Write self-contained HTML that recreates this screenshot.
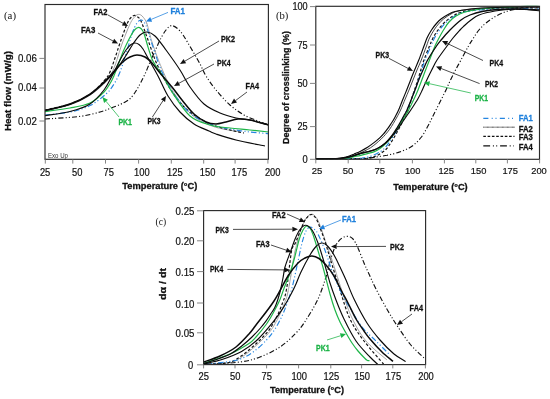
<!DOCTYPE html>
<html><head><meta charset="utf-8"><title>Figure</title>
<style>html,body{margin:0;padding:0;background:#fff}svg{display:block}</style>
</head><body>
<svg width="550" height="399" viewBox="0 0 550 399">
<defs>
<clipPath id="ca"><rect x="45" y="4.5" width="223.4" height="154.8"/></clipPath>
<clipPath id="cb"><rect x="315.8" y="5" width="223.7" height="154.6"/></clipPath>
<clipPath id="cc"><rect x="203.6" y="210.6" width="222" height="154"/></clipPath>
</defs>
<rect x="0" y="0" width="550" height="399" fill="#fff"/>
<path d="M45.0,119.0 C50.8,118.6 70.8,117.6 80.0,116.4 C89.2,115.2 95.0,113.3 100.0,112.0 C105.0,110.7 106.7,109.8 110.0,108.5 C113.3,107.2 117.3,105.7 120.0,104.5 C122.7,103.3 124.3,102.5 126.0,101.5 C127.7,100.5 128.9,99.8 130.2,98.5 C131.5,97.2 132.8,95.7 134.0,94.0 C135.2,92.3 136.4,90.4 137.5,88.5 C138.6,86.6 139.6,84.9 140.8,82.5 C142.1,80.1 143.6,77.0 145.0,74.0 C146.4,71.0 147.7,67.6 149.0,64.5 C150.3,61.4 151.8,58.2 153.0,55.5 C154.2,52.8 155.2,50.6 156.4,48.0 C157.6,45.4 158.4,43.0 160.0,40.0 C161.6,37.0 164.0,32.4 166.0,30.0 C168.0,27.6 169.7,25.4 172.0,25.6 C174.3,25.8 177.3,28.1 180.0,31.0 C182.7,33.9 184.7,37.5 188.0,43.0 C191.3,48.5 197.0,58.5 200.0,64.0 C203.0,69.5 203.3,71.7 206.0,76.0 C208.7,80.3 212.0,85.2 216.0,90.0 C220.0,94.8 225.3,100.8 230.0,105.0 C234.7,109.2 239.3,112.3 244.0,115.0 C248.7,117.7 253.9,119.3 258.0,121.0 C262.1,122.7 266.8,124.3 268.6,125.0" fill="none" stroke="#111" stroke-width="1.15" stroke-dasharray="5 2.1 1.1 2.1 1.1 2.1" clip-path="url(#ca)"/>
<path d="M45.0,110.8 C49.2,109.8 62.5,107.4 70.0,104.8 C77.5,102.2 84.0,99.1 90.0,95.2 C96.0,91.3 102.0,86.0 106.0,81.5 C110.0,77.0 111.3,74.2 114.0,68.0 C116.7,61.8 119.3,51.3 122.0,44.0 C124.7,36.7 127.8,28.6 130.0,24.0 C132.2,19.4 133.5,18.1 135.0,16.5 C136.5,14.9 137.7,14.3 139.0,14.4 C140.3,14.5 141.7,15.4 143.0,17.0 C144.3,18.6 145.5,19.8 147.0,24.0 C148.5,28.2 149.8,35.3 152.0,42.0 C154.2,48.7 157.0,56.7 160.0,64.0 C163.0,71.3 166.3,79.3 170.0,86.0 C173.7,92.7 177.7,98.7 182.0,104.0 C186.3,109.3 190.5,114.2 196.0,118.0 C201.5,121.8 207.7,124.7 215.0,127.0 C222.3,129.3 235.8,131.2 240.0,132.0" fill="none" stroke="#6a6a6a" stroke-width="1.00" stroke-dasharray="0.7 0.45" clip-path="url(#ca)"/>
<path d="M45.0,110.0 C49.2,109.0 62.5,106.6 70.0,104.0 C77.5,101.4 84.3,98.1 90.0,94.3 C95.7,90.5 100.7,84.7 104.0,81.0 C107.3,77.3 108.2,75.8 110.0,72.0 C111.8,68.2 113.3,62.8 115.0,58.0 C116.7,53.2 118.0,48.7 120.0,43.0 C122.0,37.3 125.2,28.2 127.0,24.0 C128.8,19.8 129.8,18.9 131.0,17.5 C132.2,16.1 133.0,15.7 134.0,15.5 C135.0,15.3 135.8,15.6 137.0,16.5 C138.2,17.4 139.2,17.1 141.0,21.0 C142.8,24.9 145.5,33.2 148.0,40.0 C150.5,46.8 153.0,55.0 156.0,62.0 C159.0,69.0 162.3,75.7 166.0,82.0 C169.7,88.3 174.0,95.0 178.0,100.0 C182.0,105.0 184.7,108.0 190.0,112.0 C195.3,116.0 203.3,121.0 210.0,124.0 C216.7,127.0 224.3,128.5 230.0,130.0 C235.7,131.5 241.7,132.5 244.0,133.0" fill="none" stroke="#111" stroke-width="1.20" stroke-dasharray="2.8 2" clip-path="url(#ca)"/>
<path d="M45.0,115.0 C49.2,114.5 62.5,113.6 70.0,112.0 C77.5,110.4 84.0,108.6 90.0,105.6 C96.0,102.6 102.0,97.6 106.0,94.0 C110.0,90.4 111.7,87.7 114.0,84.0 C116.3,80.3 118.0,77.0 120.0,72.0 C122.0,67.0 124.0,60.3 126.0,54.0 C128.0,47.7 130.2,39.2 132.0,34.0 C133.8,28.8 135.5,25.3 137.0,23.0 C138.5,20.7 139.8,20.2 141.0,20.0 C142.2,19.8 143.0,20.7 144.0,22.0 C145.0,23.3 145.7,24.3 147.0,28.0 C148.3,31.7 149.5,36.7 152.0,44.0 C154.5,51.3 158.3,63.7 162.0,72.0 C165.7,80.3 169.3,87.2 174.0,94.0 C178.7,100.8 184.0,108.0 190.0,113.0 C196.0,118.0 203.3,121.3 210.0,124.0 C216.7,126.7 223.3,127.7 230.0,129.0 C236.7,130.3 243.6,131.2 250.0,132.0 C256.4,132.8 265.5,133.3 268.6,133.6" fill="none" stroke="#2585e0" stroke-width="1.15" stroke-dasharray="5.5 2.3 1.1 2.3 1.1 2.3" clip-path="url(#ca)"/>
<path d="M45.0,111.6 C49.2,111.0 62.5,109.4 70.0,108.0 C77.5,106.6 84.3,105.7 90.0,103.0 C95.7,100.3 100.3,95.8 104.0,92.0 C107.7,88.2 109.8,84.0 112.0,80.0 C114.2,76.0 115.5,71.8 117.0,68.0 C118.5,64.2 119.8,60.2 121.0,57.0 C122.2,53.8 122.9,51.9 124.5,48.5 C126.1,45.1 128.7,39.7 130.4,36.5 C132.2,33.3 133.6,31.0 135.0,29.5 C136.4,28.0 137.5,27.4 138.6,27.3 C139.7,27.2 140.6,28.0 141.5,29.0 C142.4,30.0 142.9,30.5 144.0,33.5 C145.1,36.5 146.7,42.8 148.0,47.0 C149.3,51.2 150.7,55.8 152.0,59.0 C153.3,62.2 154.0,62.8 156.0,66.0 C158.0,69.2 161.3,73.7 164.0,78.0 C166.7,82.3 167.7,85.7 172.0,92.0 C176.3,98.3 183.7,110.5 190.0,116.0 C196.3,121.5 203.3,123.0 210.0,125.0 C216.7,127.0 223.3,127.2 230.0,128.0 C236.7,128.8 243.6,129.3 250.0,130.0 C256.4,130.7 265.5,131.7 268.6,132.0" fill="none" stroke="#1fb549" stroke-width="1.20" clip-path="url(#ca)"/>
<path d="M45.0,110.6 C49.2,109.6 62.5,107.1 70.0,104.5 C77.5,101.9 84.2,98.5 90.0,94.8 C95.8,91.0 100.8,85.9 105.0,82.0 C109.2,78.1 111.7,75.7 115.0,71.5 C118.3,67.3 122.0,61.6 125.0,57.0 C128.0,52.4 130.5,47.7 133.0,44.0 C135.5,40.3 137.7,37.0 140.0,35.0 C142.3,33.0 144.5,31.8 147.0,32.0 C149.5,32.2 151.8,33.0 155.0,36.0 C158.2,39.0 161.8,44.3 166.0,50.0 C170.2,55.7 176.0,63.8 180.0,70.0 C184.0,76.2 186.0,81.3 190.0,87.0 C194.0,92.7 199.0,99.7 204.0,104.0 C209.0,108.3 214.7,110.7 220.0,113.0 C225.3,115.3 231.0,116.8 236.0,118.0 C241.0,119.2 244.6,118.8 250.0,120.0 C255.4,121.2 265.5,124.2 268.6,125.0" fill="none" stroke="#0a0a0a" stroke-width="1.15" clip-path="url(#ca)"/>
<path d="M45.0,115.6 C49.2,114.9 62.5,113.4 70.0,111.5 C77.5,109.6 84.3,107.6 90.0,104.0 C95.7,100.4 100.3,94.7 104.0,90.0 C107.7,85.3 109.3,81.0 112.0,76.0 C114.7,71.0 117.7,64.3 120.0,60.0 C122.3,55.7 124.2,52.6 126.0,50.0 C127.8,47.4 129.5,45.7 131.0,44.5 C132.5,43.3 133.7,43.0 135.0,43.0 C136.3,43.0 137.7,43.5 139.0,44.5 C140.3,45.5 141.5,46.8 143.0,49.0 C144.5,51.2 145.5,53.5 148.0,58.0 C150.5,62.5 154.7,69.7 158.0,76.0 C161.3,82.3 164.3,90.0 168.0,96.0 C171.7,102.0 175.7,107.3 180.0,112.0 C184.3,116.7 189.2,120.8 194.0,124.0 C198.8,127.2 205.3,129.3 209.0,131.0 C212.7,132.7 211.5,132.5 216.0,134.0 C220.5,135.5 227.8,138.0 236.0,140.0 C244.2,142.0 260.2,145.0 265.0,146.0" fill="none" stroke="#0a0a0a" stroke-width="1.15" clip-path="url(#ca)"/>
<path d="M45.0,110.5 C49.2,109.4 62.5,106.8 70.0,104.0 C77.5,101.2 84.0,98.0 90.0,94.0 C96.0,90.0 101.7,84.2 106.0,80.0 C110.3,75.8 113.0,72.2 116.0,69.0 C119.0,65.8 121.7,63.0 124.0,61.0 C126.3,59.0 127.8,58.0 130.0,57.0 C132.2,56.0 134.5,55.0 137.0,55.0 C139.5,55.0 142.5,55.7 145.0,57.0 C147.5,58.3 149.5,60.3 152.0,63.0 C154.5,65.7 156.7,69.0 160.0,73.0 C163.3,77.0 168.3,82.5 172.0,87.0 C175.7,91.5 178.3,95.5 182.0,100.0 C185.7,104.5 190.0,110.3 194.0,114.0 C198.0,117.7 202.3,120.3 206.0,122.0 C209.7,123.7 212.7,124.0 216.0,124.0 C219.3,124.0 222.3,122.8 226.0,122.0 C229.7,121.2 234.0,119.3 238.0,119.0 C242.0,118.7 244.9,119.0 250.0,120.0 C255.1,121.0 265.5,124.2 268.6,125.0" fill="none" stroke="#0a0a0a" stroke-width="1.50" clip-path="url(#ca)"/>
<rect x="45.0" y="4.5" width="223.4" height="154.8" fill="none" stroke="#2a2a2a" stroke-width="1.15"/>
<line x1="39.4" y1="58.4" x2="45" y2="58.4" stroke="#777" stroke-width="0.9"/>
<text x="36.8" y="61.5" font-family="'Liberation Sans', sans-serif" font-size="10.00" fill="#111" text-anchor="end" stroke="#111" stroke-width="0.20" textLength="18.8" lengthAdjust="spacingAndGlyphs">0.06</text>
<line x1="39.4" y1="88.0" x2="45" y2="88.0" stroke="#777" stroke-width="0.9"/>
<text x="36.8" y="91.2" font-family="'Liberation Sans', sans-serif" font-size="10.00" fill="#111" text-anchor="end" stroke="#111" stroke-width="0.20" textLength="18.8" lengthAdjust="spacingAndGlyphs">0.04</text>
<line x1="39.4" y1="121.0" x2="45" y2="121.0" stroke="#777" stroke-width="0.9"/>
<text x="36.8" y="125.0" font-family="'Liberation Sans', sans-serif" font-size="10.00" fill="#111" text-anchor="end" stroke="#111" stroke-width="0.20" textLength="18.8" lengthAdjust="spacingAndGlyphs">0.02</text>
<line x1="45.3" y1="159.3" x2="45.3" y2="163.6" stroke="#777" stroke-width="0.9"/>
<line x1="72.8" y1="159.3" x2="72.8" y2="163.6" stroke="#777" stroke-width="0.9"/>
<line x1="105.5" y1="159.3" x2="105.5" y2="163.6" stroke="#777" stroke-width="0.9"/>
<line x1="138.6" y1="159.3" x2="138.6" y2="163.6" stroke="#777" stroke-width="0.9"/>
<line x1="171.3" y1="159.3" x2="171.3" y2="163.6" stroke="#777" stroke-width="0.9"/>
<line x1="203.7" y1="159.3" x2="203.7" y2="163.6" stroke="#777" stroke-width="0.9"/>
<line x1="235.1" y1="159.3" x2="235.1" y2="163.6" stroke="#777" stroke-width="0.9"/>
<line x1="267.9" y1="159.3" x2="267.9" y2="163.6" stroke="#777" stroke-width="0.9"/>
<text x="45.1" y="176.1" font-family="'Liberation Sans', sans-serif" font-size="10.00" fill="#111" text-anchor="middle" stroke="#111" stroke-width="0.20" textLength="10.4" lengthAdjust="spacingAndGlyphs">25</text>
<text x="77.2" y="176.1" font-family="'Liberation Sans', sans-serif" font-size="10.00" fill="#111" text-anchor="middle" stroke="#111" stroke-width="0.20" textLength="10.4" lengthAdjust="spacingAndGlyphs">50</text>
<text x="108.8" y="176.1" font-family="'Liberation Sans', sans-serif" font-size="10.00" fill="#111" text-anchor="middle" stroke="#111" stroke-width="0.20" textLength="10.4" lengthAdjust="spacingAndGlyphs">75</text>
<text x="141.8" y="176.1" font-family="'Liberation Sans', sans-serif" font-size="10.00" fill="#111" text-anchor="middle" stroke="#111" stroke-width="0.20" textLength="15.6" lengthAdjust="spacingAndGlyphs">100</text>
<text x="174.9" y="176.1" font-family="'Liberation Sans', sans-serif" font-size="10.00" fill="#111" text-anchor="middle" stroke="#111" stroke-width="0.20" textLength="15.6" lengthAdjust="spacingAndGlyphs">125</text>
<text x="207.6" y="176.1" font-family="'Liberation Sans', sans-serif" font-size="10.00" fill="#111" text-anchor="middle" stroke="#111" stroke-width="0.20" textLength="15.6" lengthAdjust="spacingAndGlyphs">150</text>
<text x="239.3" y="176.1" font-family="'Liberation Sans', sans-serif" font-size="10.00" fill="#111" text-anchor="middle" stroke="#111" stroke-width="0.20" textLength="15.6" lengthAdjust="spacingAndGlyphs">175</text>
<text x="272.7" y="176.1" font-family="'Liberation Sans', sans-serif" font-size="10.00" fill="#111" text-anchor="middle" stroke="#111" stroke-width="0.20" textLength="15.6" lengthAdjust="spacingAndGlyphs">200</text>
<text x="122.3" y="188.6" font-family="'Liberation Sans', sans-serif" font-size="9.40" fill="#111" text-anchor="start" font-weight="bold" stroke="#111" stroke-width="0.3" textLength="75.0" lengthAdjust="spacingAndGlyphs">Temperature (°C)</text>
<text x="11.0" y="131.0" font-family="'Liberation Sans', sans-serif" font-size="9.60" fill="#111" text-anchor="start" font-weight="bold" stroke="#111" stroke-width="0.3" textLength="80.0" lengthAdjust="spacingAndGlyphs" transform="rotate(-90 11.0 131.0)">Heat flow (mW/g)</text>
<text x="4.0" y="19.4" font-family="'Liberation Serif', serif" font-size="10.50" fill="#111" text-anchor="start" textLength="12.0" lengthAdjust="spacingAndGlyphs">(a)</text>
<text x="48.0" y="158.2" font-family="'Liberation Sans', sans-serif" font-size="6.40" fill="#333" text-anchor="start" textLength="20.0" lengthAdjust="spacingAndGlyphs">Exo Up</text>
<text x="93.6" y="15.2" font-family="'Liberation Sans', sans-serif" font-size="8.50" fill="#111" text-anchor="start" font-weight="bold" stroke="#111" stroke-width="0.3" textLength="13.8" lengthAdjust="spacingAndGlyphs">FA2</text>
<line x1="108.0" y1="15.0" x2="123.1" y2="23.3" stroke="#111" stroke-width="0.75"/>
<polygon points="128.0,26.0 121.9,25.5 124.3,21.1" fill="#111"/>
<text x="81.0" y="32.8" font-family="'Liberation Sans', sans-serif" font-size="8.50" fill="#111" text-anchor="start" font-weight="bold" stroke="#111" stroke-width="0.3" textLength="14.4" lengthAdjust="spacingAndGlyphs">FA3</text>
<line x1="98.0" y1="33.0" x2="113.1" y2="41.0" stroke="#111" stroke-width="0.75"/>
<polygon points="118.0,43.6 111.9,43.2 114.2,38.8" fill="#111"/>
<text x="170.4" y="13.8" font-family="'Liberation Sans', sans-serif" font-size="8.50" fill="#1f80dc" text-anchor="start" font-weight="bold" stroke="#1f80dc" stroke-width="0.3" textLength="14.6" lengthAdjust="spacingAndGlyphs">FA1</text>
<line x1="168.0" y1="12.4" x2="151.2" y2="19.4" stroke="#1f80dc" stroke-width="0.75"/>
<polygon points="146.0,21.6 150.2,17.1 152.1,21.7" fill="#1f80dc"/>
<text x="221.0" y="41.8" font-family="'Liberation Sans', sans-serif" font-size="8.50" fill="#111" text-anchor="start" font-weight="bold" stroke="#111" stroke-width="0.3" textLength="14.0" lengthAdjust="spacingAndGlyphs">PK2</text>
<line x1="219.0" y1="41.0" x2="184.8" y2="61.2" stroke="#111" stroke-width="0.75"/>
<polygon points="180.0,64.0 183.6,59.0 186.1,63.3" fill="#111"/>
<text x="217.0" y="65.8" font-family="'Liberation Sans', sans-serif" font-size="8.50" fill="#111" text-anchor="start" font-weight="bold" stroke="#111" stroke-width="0.3" textLength="13.6" lengthAdjust="spacingAndGlyphs">PK4</text>
<line x1="214.0" y1="64.0" x2="178.9" y2="83.3" stroke="#111" stroke-width="0.75"/>
<polygon points="174.0,86.0 177.7,81.1 180.1,85.5" fill="#111"/>
<text x="245.6" y="89.2" font-family="'Liberation Sans', sans-serif" font-size="8.50" fill="#111" text-anchor="start" font-weight="bold" stroke="#111" stroke-width="0.3" textLength="13.4" lengthAdjust="spacingAndGlyphs">FA4</text>
<line x1="247.0" y1="92.0" x2="235.5" y2="100.6" stroke="#111" stroke-width="0.75"/>
<polygon points="231.0,104.0 234.0,98.6 237.0,102.6" fill="#111"/>
<text x="118.4" y="125.2" font-family="'Liberation Sans', sans-serif" font-size="8.50" fill="#1cb347" text-anchor="start" font-weight="bold" stroke="#1cb347" stroke-width="0.3" textLength="13.6" lengthAdjust="spacingAndGlyphs">PK1</text>
<line x1="119.0" y1="117.0" x2="106.0" y2="101.3" stroke="#1cb347" stroke-width="0.75"/>
<polygon points="102.4,97.0 107.9,99.7 104.1,102.9" fill="#1cb347"/>
<text x="147.4" y="124.4" font-family="'Liberation Sans', sans-serif" font-size="8.50" fill="#111" text-anchor="start" font-weight="bold" stroke="#111" stroke-width="0.3" textLength="13.2" lengthAdjust="spacingAndGlyphs">PK3</text>
<line x1="152.4" y1="117.0" x2="163.0" y2="100.7" stroke="#111" stroke-width="0.75"/>
<polygon points="166.0,96.0 165.1,102.1 160.9,99.3" fill="#111"/>
<path d="M315.8,158.9 C323.5,158.9 352.6,158.9 362.0,158.7 C371.4,158.5 369.2,158.0 372.0,157.6 C374.8,157.3 376.1,157.0 378.6,156.6 C381.1,156.2 384.3,155.8 387.0,155.3 C389.7,154.7 392.3,154.2 395.0,153.4 C397.7,152.7 400.5,151.7 403.0,150.7 C405.5,149.7 407.8,148.8 410.0,147.5 C412.2,146.2 414.2,144.7 416.0,143.0 C417.8,141.3 419.5,139.4 421.0,137.5 C422.5,135.6 423.8,133.6 425.0,131.5 C426.2,129.4 427.3,127.2 428.5,125.0 C429.7,122.8 430.7,120.7 432.0,118.0 C433.3,115.3 434.9,112.2 436.5,109.0 C438.1,105.8 439.9,102.2 441.5,99.0 C443.1,95.8 444.5,93.2 446.0,90.0 C447.5,86.8 448.9,83.3 450.5,80.0 C452.1,76.7 453.8,73.3 455.5,70.0 C457.2,66.7 458.8,64.0 461.0,60.0 C463.2,56.0 466.4,49.7 468.5,46.0 C470.6,42.3 471.8,40.7 473.5,38.0 C475.2,35.3 476.9,32.5 479.0,30.0 C481.1,27.5 483.2,25.3 486.0,23.0 C488.8,20.7 492.3,18.2 495.5,16.4 C498.7,14.6 501.8,13.2 505.0,12.0 C508.2,10.8 510.8,10.2 514.5,9.5 C518.2,8.8 522.8,8.2 527.0,7.8 C531.2,7.3 537.8,7.0 540.0,6.8" fill="none" stroke="#111" stroke-width="1.15" stroke-dasharray="5 2.1 1.1 2.1 1.1 2.1" clip-path="url(#cb)"/>
<path d="M315.8,158.9 C319.8,158.8 334.3,158.8 340.0,158.5 C345.7,158.2 347.2,157.8 350.0,157.1 C352.8,156.4 354.7,155.3 357.0,154.4 C359.3,153.4 361.8,152.3 364.0,151.2 C366.2,150.1 368.3,149.2 370.3,147.9 C372.3,146.6 374.2,145.1 376.0,143.6 C377.8,142.1 379.7,140.4 381.3,138.9 C382.9,137.4 384.2,135.9 385.6,134.3 C387.0,132.7 388.3,131.1 389.6,129.3 C390.9,127.5 392.1,125.5 393.3,123.5 C394.5,121.5 395.8,119.2 397.0,117.0 C398.2,114.8 399.2,113.0 400.6,110.0 C402.0,107.0 403.8,102.3 405.2,99.0 C406.6,95.7 407.7,93.2 409.0,90.0 C410.3,86.8 411.7,83.3 413.0,80.0 C414.3,76.7 415.6,73.3 417.0,70.0 C418.4,66.7 419.7,64.0 421.3,60.0 C422.9,56.0 425.1,49.7 426.5,46.0 C427.9,42.3 428.2,40.7 429.5,38.0 C430.8,35.3 432.5,32.3 434.0,30.0 C435.5,27.7 436.9,25.8 438.5,24.0 C440.1,22.2 441.4,20.7 443.5,19.0 C445.6,17.3 448.6,15.3 451.0,14.0 C453.4,12.7 454.2,11.8 458.0,11.0 C461.8,10.2 469.0,9.5 474.0,9.0 C479.0,8.5 481.2,8.2 488.0,8.0 C494.8,7.8 506.3,7.6 515.0,7.5 C523.7,7.4 535.8,7.5 540.0,7.5" fill="none" stroke="#3a3a3a" stroke-width="0.95" clip-path="url(#cb)"/>
<path d="M315.8,158.9 C323.2,158.9 351.3,158.8 360.0,158.6 C368.7,158.5 365.6,158.3 368.0,158.0 C370.4,157.7 372.4,157.3 374.4,156.6 C376.4,155.9 378.1,154.9 380.0,153.8 C381.9,152.7 384.0,151.2 385.5,149.8 C387.0,148.4 387.9,147.1 389.0,145.5 C390.1,143.9 391.2,142.2 392.4,140.3 C393.6,138.4 394.9,136.1 396.0,134.0 C397.1,131.9 398.3,129.9 399.3,128.0 C400.3,126.1 401.1,124.3 402.0,122.5 C402.9,120.7 403.8,119.0 404.8,116.9 C405.8,114.8 407.1,113.0 408.2,110.0 C409.3,107.0 410.4,102.3 411.5,99.0 C412.6,95.7 413.4,93.2 414.5,90.0 C415.6,86.8 416.8,83.3 417.8,80.0 C418.9,76.7 419.8,73.3 420.8,70.0 C421.8,66.7 422.6,64.0 424.0,60.0 C425.4,56.0 428.0,49.7 429.5,46.0 C431.0,42.3 431.6,40.7 433.0,38.0 C434.4,35.3 436.0,32.7 438.0,30.0 C440.0,27.3 442.5,24.3 445.0,22.0 C447.5,19.7 450.2,17.7 453.0,16.0 C455.8,14.3 457.8,13.1 462.0,12.0 C466.2,10.9 471.7,10.2 478.0,9.5 C484.3,8.8 489.7,8.2 500.0,8.0 C510.3,7.8 533.3,8.0 540.0,8.0" fill="none" stroke="#111" stroke-width="1.20" stroke-dasharray="2.8 2" clip-path="url(#cb)"/>
<path d="M315.8,158.9 C322.3,158.9 347.3,158.8 355.0,158.6 C362.7,158.5 359.9,158.2 362.0,158.0 C364.1,157.7 365.4,157.7 367.6,157.1 C369.8,156.5 372.7,155.6 375.0,154.5 C377.3,153.5 379.5,152.3 381.3,151.0 C383.1,149.7 384.2,148.5 385.6,147.0 C387.0,145.5 388.2,143.7 389.6,141.7 C391.0,139.7 392.6,137.3 394.0,135.0 C395.4,132.7 396.7,130.3 397.9,128.0 C399.1,125.7 400.2,123.3 401.4,121.0 C402.5,118.7 403.9,115.8 404.8,114.0 C405.7,112.2 405.9,112.5 407.0,110.0 C408.1,107.5 410.2,102.3 411.5,99.0 C412.8,95.7 413.8,93.2 415.0,90.0 C416.2,86.8 417.4,83.3 418.5,80.0 C419.6,76.7 420.6,73.3 421.7,70.0 C422.8,66.7 423.4,64.0 425.0,60.0 C426.6,56.0 429.4,49.7 431.0,46.0 C432.6,42.3 433.1,40.7 434.5,38.0 C435.9,35.3 437.5,32.7 439.5,30.0 C441.5,27.3 443.9,24.3 446.5,22.0 C449.1,19.7 452.1,17.7 455.0,16.0 C457.9,14.3 459.8,13.0 464.0,12.0 C468.2,11.0 473.2,10.5 480.0,10.0 C486.8,9.5 495.0,9.2 505.0,9.0 C515.0,8.8 534.2,9.0 540.0,9.0" fill="none" stroke="#2585e0" stroke-width="1.15" stroke-dasharray="5.5 2.3 1.1 2.3 1.1 2.3" clip-path="url(#cb)"/>
<path d="M315.8,158.9 C320.7,158.8 338.6,158.9 345.0,158.5 C351.4,158.2 351.4,157.2 354.0,156.6 C356.6,156.1 358.4,155.8 360.7,155.3 C362.9,154.8 365.2,154.2 367.5,153.6 C369.8,153.0 372.3,152.5 374.4,151.6 C376.5,150.8 378.1,149.9 380.0,148.5 C381.9,147.2 383.8,145.5 385.5,143.8 C387.2,142.1 388.9,140.3 390.5,138.3 C392.1,136.3 393.7,134.1 395.1,132.0 C396.5,129.9 397.7,127.9 399.0,125.8 C400.3,123.7 401.7,121.3 402.8,119.6 C403.9,117.9 404.4,117.1 405.4,115.5 C406.4,113.9 407.2,112.8 408.6,110.0 C410.0,107.2 412.4,102.3 414.0,99.0 C415.6,95.7 416.7,93.2 418.0,90.0 C419.3,86.8 420.5,83.3 421.8,80.0 C423.1,76.7 424.3,73.3 425.6,70.0 C426.9,66.7 427.9,64.0 429.5,60.0 C431.1,56.0 433.4,49.7 435.0,46.0 C436.6,42.3 437.6,40.7 439.0,38.0 C440.4,35.3 441.8,32.7 443.5,30.0 C445.2,27.3 446.9,24.3 449.0,22.0 C451.1,19.7 453.3,17.7 456.0,16.0 C458.7,14.3 461.0,13.2 465.0,12.0 C469.0,10.8 474.2,9.8 480.0,9.0 C485.8,8.2 493.3,7.9 500.0,7.5 C506.7,7.1 513.3,6.7 520.0,6.5 C526.7,6.3 536.7,6.5 540.0,6.5" fill="none" stroke="#1fb549" stroke-width="1.20" clip-path="url(#cb)"/>
<path d="M315.8,158.9 C319.2,158.8 331.0,158.8 336.0,158.5 C341.0,158.2 343.0,157.8 346.0,157.1 C349.0,156.4 351.3,155.2 353.8,154.2 C356.3,153.1 358.7,152.1 361.0,150.9 C363.3,149.7 365.4,148.6 367.6,147.2 C369.8,145.8 371.9,144.2 374.0,142.6 C376.1,141.0 378.3,139.2 380.0,137.6 C381.7,136.0 382.9,134.6 384.3,133.0 C385.7,131.4 386.9,129.7 388.2,127.9 C389.4,126.2 390.6,124.3 391.8,122.5 C393.0,120.7 394.0,119.0 395.1,116.9 C396.2,114.8 397.3,113.0 398.6,110.0 C399.9,107.0 401.6,102.3 403.0,99.0 C404.4,95.7 405.4,93.2 406.7,90.0 C408.0,86.8 409.3,83.3 410.6,80.0 C411.9,76.7 413.2,73.3 414.6,70.0 C416.0,66.7 417.2,64.0 418.8,60.0 C420.4,56.0 422.6,49.7 424.0,46.0 C425.4,42.3 425.8,40.7 427.0,38.0 C428.2,35.3 430.0,32.3 431.5,30.0 C433.0,27.7 434.4,25.8 436.0,24.0 C437.6,22.2 438.8,20.7 441.0,19.0 C443.2,17.3 446.7,15.2 449.0,14.0 C451.3,12.8 451.5,12.3 455.0,11.5 C458.5,10.7 465.5,9.6 470.0,9.0 C474.5,8.4 475.5,8.3 482.0,8.0 C488.5,7.7 499.3,7.2 509.0,7.0 C518.7,6.8 534.8,6.6 540.0,6.5" fill="none" stroke="#0a0a0a" stroke-width="1.15" clip-path="url(#cb)"/>
<path d="M315.8,158.9 C319.8,158.8 334.0,159.0 340.0,158.5 C346.0,158.1 348.6,157.0 352.0,156.2 C355.4,155.3 358.1,154.2 360.7,153.4 C363.3,152.7 365.2,152.4 367.5,151.8 C369.8,151.2 372.3,150.6 374.4,149.8 C376.5,149.0 378.1,148.1 380.0,147.0 C381.9,145.9 383.8,144.4 385.5,143.0 C387.2,141.6 388.7,140.1 390.2,138.5 C391.7,136.9 393.1,135.2 394.5,133.4 C395.9,131.7 397.2,129.8 398.5,128.0 C399.8,126.2 401.2,124.1 402.3,122.4 C403.4,120.7 404.4,119.4 405.3,118.0 C406.2,116.6 407.1,115.3 408.0,114.0 C408.9,112.7 409.2,112.5 410.8,110.0 C412.4,107.5 415.9,102.3 417.8,99.0 C419.7,95.7 420.8,93.2 422.3,90.0 C423.8,86.8 425.2,83.3 426.8,80.0 C428.4,76.7 430.0,73.3 431.7,70.0 C433.4,66.7 434.4,64.0 437.0,60.0 C439.6,56.0 444.3,49.7 447.0,46.0 C449.7,42.3 450.8,40.7 453.0,38.0 C455.2,35.3 458.2,32.0 460.0,30.0 C461.8,28.0 462.2,27.7 464.0,26.0 C465.8,24.3 468.5,21.8 471.0,20.0 C473.5,18.2 475.0,16.5 479.0,15.0 C483.0,13.5 489.2,12.0 495.0,11.0 C500.8,10.0 508.7,9.2 514.0,9.0 C519.3,8.8 522.7,9.2 527.0,9.5 C531.3,9.8 537.8,10.8 540.0,11.0" fill="none" stroke="#0a0a0a" stroke-width="1.15" clip-path="url(#cb)"/>
<path d="M315.8,158.9 C319.8,158.8 334.0,159.0 340.0,158.5 C346.0,158.1 348.6,157.0 352.0,156.2 C355.4,155.3 358.1,154.2 360.7,153.4 C363.3,152.7 365.2,152.4 367.5,151.8 C369.8,151.2 372.3,150.6 374.4,149.8 C376.5,149.0 378.1,148.1 380.0,147.0 C381.9,145.9 383.8,144.5 385.5,143.0 C387.2,141.5 388.6,139.8 390.0,138.0 C391.4,136.2 392.8,134.3 394.0,132.5 C395.2,130.7 396.3,128.9 397.5,127.0 C398.7,125.1 399.9,122.9 401.0,121.0 C402.1,119.1 403.0,117.3 404.0,115.5 C405.0,113.7 405.8,112.8 407.0,110.0 C408.2,107.2 410.2,102.3 411.5,99.0 C412.8,95.7 413.8,93.2 415.0,90.0 C416.2,86.8 417.4,83.3 418.7,80.0 C420.0,76.7 421.5,73.3 423.0,70.0 C424.5,66.7 425.4,64.0 427.6,60.0 C429.9,56.0 434.1,49.5 436.5,46.0 C438.9,42.5 439.8,41.7 442.0,39.0 C444.2,36.3 446.8,33.2 450.0,30.0 C453.2,26.8 457.7,22.5 461.0,20.0 C464.3,17.5 466.5,16.4 470.0,15.0 C473.5,13.6 477.3,12.4 482.0,11.5 C486.7,10.6 492.5,9.9 498.0,9.5 C503.5,9.1 508.0,8.9 515.0,9.0 C522.0,9.1 535.8,9.8 540.0,10.0" fill="none" stroke="#0a0a0a" stroke-width="1.30" clip-path="url(#cb)"/>
<rect x="315.8" y="6.3" width="223.7" height="153.0" fill="none" stroke="#2a2a2a" stroke-width="1.15"/>
<line x1="310" y1="6.6" x2="315.8" y2="6.6" stroke="#777" stroke-width="0.9"/>
<text x="307.6" y="10.2" font-family="'Liberation Sans', sans-serif" font-size="10.00" fill="#111" text-anchor="end" stroke="#111" stroke-width="0.20" textLength="15.2" lengthAdjust="spacingAndGlyphs">100</text>
<line x1="310" y1="45.0" x2="315.8" y2="45.0" stroke="#777" stroke-width="0.9"/>
<text x="307.6" y="48.6" font-family="'Liberation Sans', sans-serif" font-size="10.00" fill="#111" text-anchor="end" stroke="#111" stroke-width="0.20" textLength="10.2" lengthAdjust="spacingAndGlyphs">75</text>
<line x1="310" y1="83.4" x2="315.8" y2="83.4" stroke="#777" stroke-width="0.9"/>
<text x="307.6" y="87.0" font-family="'Liberation Sans', sans-serif" font-size="10.00" fill="#111" text-anchor="end" stroke="#111" stroke-width="0.20" textLength="10.2" lengthAdjust="spacingAndGlyphs">50</text>
<line x1="310" y1="126.6" x2="315.8" y2="126.6" stroke="#777" stroke-width="0.9"/>
<text x="307.6" y="130.2" font-family="'Liberation Sans', sans-serif" font-size="10.00" fill="#111" text-anchor="end" stroke="#111" stroke-width="0.20" textLength="10.2" lengthAdjust="spacingAndGlyphs">25</text>
<line x1="310" y1="159.3" x2="315.8" y2="159.3" stroke="#777" stroke-width="0.9"/>
<text x="307.6" y="162.9" font-family="'Liberation Sans', sans-serif" font-size="10.00" fill="#111" text-anchor="end" stroke="#111" stroke-width="0.20" textLength="5.2" lengthAdjust="spacingAndGlyphs">0</text>
<line x1="315.8" y1="159.3" x2="315.8" y2="163.4" stroke="#777" stroke-width="0.9"/>
<line x1="348.2" y1="159.3" x2="348.2" y2="163.4" stroke="#777" stroke-width="0.9"/>
<line x1="379.8" y1="159.3" x2="379.8" y2="163.4" stroke="#777" stroke-width="0.9"/>
<line x1="412.4" y1="159.3" x2="412.4" y2="163.4" stroke="#777" stroke-width="0.9"/>
<line x1="444.4" y1="159.3" x2="444.4" y2="163.4" stroke="#777" stroke-width="0.9"/>
<line x1="475.8" y1="159.3" x2="475.8" y2="163.4" stroke="#777" stroke-width="0.9"/>
<line x1="507.4" y1="159.3" x2="507.4" y2="163.4" stroke="#777" stroke-width="0.9"/>
<line x1="539.6" y1="159.3" x2="539.6" y2="163.4" stroke="#777" stroke-width="0.9"/>
<text x="317.0" y="174.4" font-family="'Liberation Sans', sans-serif" font-size="9.80" fill="#111" text-anchor="middle" stroke="#111" stroke-width="0.20" textLength="10.6" lengthAdjust="spacingAndGlyphs">25</text>
<text x="348.0" y="174.4" font-family="'Liberation Sans', sans-serif" font-size="9.80" fill="#111" text-anchor="middle" stroke="#111" stroke-width="0.20" textLength="10.6" lengthAdjust="spacingAndGlyphs">50</text>
<text x="379.7" y="174.4" font-family="'Liberation Sans', sans-serif" font-size="9.80" fill="#111" text-anchor="middle" stroke="#111" stroke-width="0.20" textLength="10.6" lengthAdjust="spacingAndGlyphs">75</text>
<text x="412.7" y="174.4" font-family="'Liberation Sans', sans-serif" font-size="9.80" fill="#111" text-anchor="middle" stroke="#111" stroke-width="0.20" textLength="15.6" lengthAdjust="spacingAndGlyphs">100</text>
<text x="446.2" y="174.4" font-family="'Liberation Sans', sans-serif" font-size="9.80" fill="#111" text-anchor="middle" stroke="#111" stroke-width="0.20" textLength="15.6" lengthAdjust="spacingAndGlyphs">125</text>
<text x="478.6" y="174.4" font-family="'Liberation Sans', sans-serif" font-size="9.80" fill="#111" text-anchor="middle" stroke="#111" stroke-width="0.20" textLength="15.6" lengthAdjust="spacingAndGlyphs">150</text>
<text x="510.2" y="174.4" font-family="'Liberation Sans', sans-serif" font-size="9.80" fill="#111" text-anchor="middle" stroke="#111" stroke-width="0.20" textLength="15.6" lengthAdjust="spacingAndGlyphs">175</text>
<text x="539.0" y="174.4" font-family="'Liberation Sans', sans-serif" font-size="9.80" fill="#111" text-anchor="middle" stroke="#111" stroke-width="0.20" textLength="15.6" lengthAdjust="spacingAndGlyphs">200</text>
<text x="393.2" y="190.0" font-family="'Liberation Sans', sans-serif" font-size="9.40" fill="#111" text-anchor="start" font-weight="bold" stroke="#111" stroke-width="0.3" textLength="74.5" lengthAdjust="spacingAndGlyphs">Temperature (°C)</text>
<text x="288.6" y="144.0" font-family="'Liberation Sans', sans-serif" font-size="9.40" fill="#111" text-anchor="start" font-weight="bold" stroke="#111" stroke-width="0.3" textLength="113.0" lengthAdjust="spacingAndGlyphs" transform="rotate(-90 288.6 144.0)">Degree of crosslinking (%)</text>
<text x="276.0" y="19.4" font-family="'Liberation Serif', serif" font-size="10.50" fill="#111" text-anchor="start" textLength="12.4" lengthAdjust="spacingAndGlyphs">(b)</text>
<text x="375.6" y="57.8" font-family="'Liberation Sans', sans-serif" font-size="8.50" fill="#111" text-anchor="start" font-weight="bold" stroke="#111" stroke-width="0.3" textLength="13.4" lengthAdjust="spacingAndGlyphs">PK3</text>
<line x1="389.0" y1="58.4" x2="408.0" y2="68.4" stroke="#111" stroke-width="0.75"/>
<polygon points="413.0,71.0 406.9,70.6 409.2,66.2" fill="#111"/>
<text x="489.5" y="66.3" font-family="'Liberation Sans', sans-serif" font-size="8.50" fill="#111" text-anchor="start" font-weight="bold" stroke="#111" stroke-width="0.3" textLength="13.5" lengthAdjust="spacingAndGlyphs">PK4</text>
<line x1="483.0" y1="60.5" x2="447.1" y2="43.4" stroke="#111" stroke-width="0.75"/>
<polygon points="442.0,41.0 448.1,41.1 446.0,45.7" fill="#111"/>
<text x="485.0" y="86.8" font-family="'Liberation Sans', sans-serif" font-size="8.50" fill="#111" text-anchor="start" font-weight="bold" stroke="#111" stroke-width="0.3" textLength="13.0" lengthAdjust="spacingAndGlyphs">PK2</text>
<line x1="479.6" y1="83.6" x2="441.2" y2="68.5" stroke="#111" stroke-width="0.75"/>
<polygon points="436.0,66.5 442.1,66.2 440.3,70.9" fill="#111"/>
<text x="474.8" y="100.6" font-family="'Liberation Sans', sans-serif" font-size="8.50" fill="#1cb347" text-anchor="start" font-weight="bold" stroke="#1cb347" stroke-width="0.3" textLength="13.2" lengthAdjust="spacingAndGlyphs">PK1</text>
<line x1="470.8" y1="93.0" x2="429.5" y2="83.7" stroke="#1cb347" stroke-width="0.75"/>
<polygon points="424.0,82.5 430.0,81.3 428.9,86.2" fill="#1cb347"/>
<line x1="483.3" y1="118.4" x2="513.6" y2="118.4" stroke="#2585e0" stroke-width="1.15" stroke-dasharray="5.1 3.3 1 2.8 1 3.3"/>
<text x="518.8" y="121.4" font-family="'Liberation Sans', sans-serif" font-size="8.50" fill="#1f80dc" text-anchor="start" font-weight="bold" stroke="#1f80dc" stroke-width="0.3" textLength="14.1" lengthAdjust="spacingAndGlyphs">FA1</text>
<line x1="483.3" y1="127.3" x2="515.0" y2="127.3" stroke="#6a6a6a" stroke-width="1.40" stroke-dasharray="0.8 0.45"/>
<text x="518.8" y="131.9" font-family="'Liberation Sans', sans-serif" font-size="8.50" fill="#111" text-anchor="start" font-weight="bold" stroke="#111" stroke-width="0.3" textLength="14.1" lengthAdjust="spacingAndGlyphs">FA2</text>
<line x1="483.3" y1="136.3" x2="514.5" y2="136.3" stroke="#111" stroke-width="1.20" stroke-dasharray="2.6 1.7"/>
<text x="518.8" y="140.3" font-family="'Liberation Sans', sans-serif" font-size="8.50" fill="#111" text-anchor="start" font-weight="bold" stroke="#111" stroke-width="0.3" textLength="14.1" lengthAdjust="spacingAndGlyphs">FA3</text>
<line x1="483.3" y1="145.8" x2="513.6" y2="145.8" stroke="#111" stroke-width="1.15" stroke-dasharray="6.8 2.8 1 2.3 1 2.9"/>
<text x="518.8" y="150.4" font-family="'Liberation Sans', sans-serif" font-size="8.50" fill="#111" text-anchor="start" font-weight="bold" stroke="#111" stroke-width="0.3" textLength="14.1" lengthAdjust="spacingAndGlyphs">FA4</text>
<path d="M203.6,364.3 C209.7,363.9 230.6,363.2 240.0,362.0 C249.4,360.8 253.3,359.5 260.0,357.0 C266.7,354.5 274.0,351.0 280.0,347.0 C286.0,343.0 291.7,337.5 296.0,333.0 C300.3,328.5 302.3,325.7 306.0,320.0 C309.7,314.3 314.7,306.2 318.0,299.0 C321.3,291.8 323.8,283.8 326.0,277.0 C328.2,270.2 329.3,263.3 331.0,258.0 C332.7,252.7 334.2,248.3 336.0,245.0 C337.8,241.7 340.0,239.4 342.0,238.0 C344.0,236.6 346.2,236.2 348.0,236.4 C349.8,236.6 351.3,237.1 353.0,239.0 C354.7,240.9 356.2,244.0 358.0,248.0 C359.8,252.0 362.2,258.7 364.0,263.0 C365.8,267.3 367.0,269.7 369.0,274.0 C371.0,278.3 372.8,282.8 376.0,289.0 C379.2,295.2 384.3,304.7 388.0,311.0 C391.7,317.3 394.3,321.5 398.0,327.0 C401.7,332.5 405.7,338.8 410.0,344.0 C414.3,349.2 421.7,355.7 424.0,358.0" fill="none" stroke="#111" stroke-width="1.15" stroke-dasharray="5 2.1 1.1 2.1 1.1 2.1" clip-path="url(#cc)"/>
<path d="M203.6,364.3 C206.7,364.2 217.1,363.9 222.0,363.5 C226.9,363.1 229.3,363.3 233.0,362.0 C236.7,360.7 240.5,357.9 244.0,355.5 C247.5,353.1 250.8,350.1 254.0,347.4 C257.2,344.6 260.2,341.8 263.0,339.0 C265.8,336.2 268.4,333.5 270.6,330.7 C272.8,327.9 274.3,325.1 276.0,322.0 C277.7,318.9 279.6,315.2 281.0,312.0 C282.4,308.8 283.5,305.8 284.5,303.0 C285.5,300.2 286.3,299.1 287.2,295.4 C288.1,291.7 289.0,286.6 290.0,281.0 C291.0,275.4 292.0,267.7 293.0,262.0 C294.0,256.3 294.8,252.0 296.0,247.0 C297.2,242.0 298.7,236.2 300.0,232.0 C301.3,227.8 302.8,224.6 304.0,222.0 C305.2,219.4 306.2,217.8 307.5,216.5 C308.8,215.2 310.2,214.3 311.5,214.2 C312.8,214.1 313.9,214.9 315.0,216.0 C316.1,217.1 317.0,218.5 318.0,220.5 C319.0,222.5 320.0,225.3 321.0,228.0 C322.0,230.7 322.2,231.5 324.0,236.8 C325.8,242.1 329.0,251.0 332.0,260.0 C335.0,269.0 338.7,281.3 342.0,291.0 C345.3,300.7 348.0,309.7 352.0,318.0 C356.0,326.3 360.2,334.0 366.0,341.0 C371.8,348.0 383.5,356.8 387.0,360.0" fill="none" stroke="#6a6a6a" stroke-width="1.00" stroke-dasharray="0.7 0.45" clip-path="url(#cc)"/>
<path d="M203.6,364.3 C206.3,364.2 215.4,363.9 220.0,363.5 C224.6,363.1 227.3,363.3 231.0,362.0 C234.7,360.7 238.5,357.9 242.0,355.5 C245.5,353.1 248.8,350.1 252.0,347.4 C255.2,344.6 258.2,341.8 261.0,339.0 C263.8,336.2 266.4,333.5 268.6,330.7 C270.8,327.9 272.3,325.1 274.0,322.0 C275.7,318.9 277.6,315.2 279.0,312.0 C280.4,308.8 281.5,305.8 282.5,303.0 C283.5,300.2 284.4,298.7 285.2,295.4 C286.0,292.1 286.8,287.9 287.5,283.0 C288.2,278.1 288.8,271.7 289.5,266.0 C290.2,260.3 291.0,252.8 292.0,249.0 C293.0,245.2 294.2,245.5 295.4,243.0 C296.6,240.5 297.5,237.6 299.0,234.0 C300.5,230.4 302.8,224.4 304.3,221.5 C305.8,218.6 306.9,217.7 308.0,216.5 C309.1,215.3 310.0,214.6 311.0,214.5 C312.0,214.4 313.0,215.0 314.0,216.0 C315.0,217.0 315.7,217.5 317.0,220.3 C318.3,223.1 320.5,229.0 322.0,233.0 C323.5,237.0 324.7,240.3 326.0,244.5 C327.3,248.7 327.7,250.4 330.0,258.0 C332.3,265.6 336.7,279.8 340.0,290.0 C343.3,300.2 346.0,310.5 350.0,319.0 C354.0,327.5 358.3,333.4 364.0,341.0 C369.7,348.6 380.7,360.7 384.0,364.6" fill="none" stroke="#111" stroke-width="1.20" stroke-dasharray="2.8 2" clip-path="url(#cc)"/>
<path d="M203.6,364.3 C208.8,363.7 226.9,362.4 235.0,360.5 C243.1,358.6 246.8,356.2 252.0,352.8 C257.2,349.4 262.7,344.0 266.5,340.0 C270.3,336.0 272.4,333.0 275.0,329.0 C277.6,325.0 280.0,320.2 282.0,316.0 C284.0,311.8 285.3,308.2 287.0,303.5 C288.7,298.8 290.3,294.2 292.0,288.0 C293.7,281.8 295.3,273.5 297.0,266.0 C298.7,258.5 300.5,248.8 302.0,243.0 C303.5,237.2 304.7,233.7 306.0,231.0 C307.3,228.3 308.7,227.3 310.0,227.0 C311.3,226.7 312.7,227.8 314.0,229.0 C315.3,230.2 316.0,230.0 318.0,234.0 C320.0,238.0 323.7,246.8 326.0,253.0 C328.3,259.2 329.7,264.8 332.0,271.0 C334.3,277.2 337.0,283.8 340.0,290.0 C343.0,296.2 346.3,301.8 350.0,308.0 C353.7,314.2 357.7,321.5 362.0,327.0 C366.3,332.5 371.3,336.3 376.0,341.0 C380.7,345.7 387.7,352.7 390.0,355.0" fill="none" stroke="#2585e0" stroke-width="1.15" stroke-dasharray="5.5 2.3 1.1 2.3 1.1 2.3" clip-path="url(#cc)"/>
<path d="M203.6,363.4 C208.0,361.8 222.4,357.3 230.0,354.0 C237.6,350.7 244.7,346.3 249.0,343.5 C253.3,340.7 253.1,340.2 256.0,337.0 C258.9,333.8 263.5,328.2 266.5,324.0 C269.5,319.8 271.8,315.6 274.0,311.5 C276.2,307.4 278.2,303.6 280.0,299.5 C281.8,295.4 282.8,291.4 284.5,287.0 C286.2,282.6 288.3,277.8 290.0,273.0 C291.7,268.2 293.0,263.5 294.5,258.0 C296.0,252.5 297.6,244.7 299.0,240.0 C300.4,235.3 301.7,232.3 303.0,230.0 C304.3,227.7 305.6,226.2 306.8,226.0 C308.1,225.8 309.3,227.1 310.5,229.0 C311.7,230.9 312.6,233.3 314.0,237.5 C315.4,241.7 317.3,248.4 319.0,254.0 C320.7,259.6 322.2,264.3 324.0,271.0 C325.8,277.7 328.2,287.5 330.0,294.0 C331.8,300.5 333.3,305.3 335.0,310.0 C336.7,314.7 338.2,318.2 340.0,322.0 C341.8,325.8 344.0,329.5 346.0,333.0 C348.0,336.5 350.0,340.0 352.0,343.0 C354.0,346.0 355.8,348.4 358.0,351.0 C360.2,353.6 363.4,356.9 365.0,358.5 C366.6,360.1 366.8,360.0 367.5,360.4 C368.2,360.8 369.2,360.6 369.5,360.6" fill="none" stroke="#1fb549" stroke-width="1.20" clip-path="url(#cc)"/>
<path d="M203.6,364.0 C206.7,363.2 215.7,361.6 222.0,359.5 C228.3,357.4 235.6,354.9 241.6,351.5 C247.6,348.1 253.0,343.9 258.2,339.0 C263.4,334.1 268.6,327.6 272.8,322.4 C277.0,317.2 280.1,312.8 283.2,307.9 C286.3,303.0 289.4,297.3 291.5,293.3 C293.6,289.3 294.4,287.6 296.0,284.0 C297.6,280.4 298.7,276.8 301.0,272.0 C303.3,267.2 307.5,259.2 310.0,255.0 C312.5,250.8 314.0,248.5 316.0,246.5 C318.0,244.5 320.0,243.0 322.0,243.0 C324.0,243.0 326.0,244.5 328.0,246.5 C330.0,248.5 332.0,251.6 334.0,255.0 C336.0,258.4 338.0,262.8 340.0,267.0 C342.0,271.2 343.7,274.7 346.0,280.0 C348.3,285.3 350.5,291.8 354.0,299.0 C357.5,306.2 362.7,316.2 367.0,323.0 C371.3,329.8 375.5,334.8 380.0,340.0 C384.5,345.2 389.7,350.4 394.0,354.0 C398.3,357.6 403.7,360.3 405.6,361.6" fill="none" stroke="#0a0a0a" stroke-width="1.15" clip-path="url(#cc)"/>
<path d="M203.6,363.5 C206.0,362.8 213.4,360.6 218.0,359.0 C222.6,357.4 227.2,355.8 231.2,353.6 C235.2,351.4 238.5,348.6 242.0,345.8 C245.5,343.0 249.0,339.9 252.0,337.0 C255.0,334.1 257.6,331.3 260.0,328.5 C262.4,325.7 264.7,322.8 266.5,320.3 C268.3,317.8 269.6,315.6 271.0,313.5 C272.4,311.4 273.6,309.9 274.8,307.5 C276.0,305.1 277.1,301.9 278.0,299.0 C278.9,296.1 279.7,293.5 280.5,290.0 C281.3,286.5 282.2,281.8 283.0,278.0 C283.8,274.2 283.8,271.2 285.0,267.0 C286.2,262.8 288.2,257.8 290.0,253.0 C291.8,248.2 293.8,241.9 295.5,238.0 C297.2,234.1 298.3,231.6 300.0,229.5 C301.7,227.4 303.5,225.2 305.5,225.3 C307.5,225.4 309.9,227.1 312.0,230.0 C314.1,232.9 316.0,237.7 318.0,243.0 C320.0,248.3 322.0,255.3 324.0,262.0 C326.0,268.7 328.0,276.7 330.0,283.0 C332.0,289.3 333.7,294.0 336.0,300.0 C338.3,306.0 340.7,312.2 344.0,319.0 C347.3,325.8 351.7,334.7 356.0,341.0 C360.3,347.3 366.3,353.1 370.0,357.0 C373.7,360.9 376.7,363.3 378.0,364.6" fill="none" stroke="#0a0a0a" stroke-width="1.15" clip-path="url(#cc)"/>
<path d="M203.6,362.0 C206.3,361.0 214.6,358.5 220.0,356.0 C225.4,353.5 231.2,350.7 236.0,347.0 C240.8,343.3 245.7,337.7 249.0,334.0 C252.3,330.3 251.8,330.5 256.0,325.0 C260.2,319.5 268.7,309.2 274.0,301.0 C279.3,292.8 284.0,282.3 288.0,276.0 C292.0,269.7 295.2,266.0 298.0,263.0 C300.8,260.0 302.7,259.2 305.0,258.0 C307.3,256.8 309.7,255.9 312.0,256.0 C314.3,256.1 316.7,257.0 319.0,258.5 C321.3,260.0 323.5,262.1 326.0,265.0 C328.5,267.9 331.5,271.8 334.0,276.0 C336.5,280.2 338.7,285.5 341.0,290.0 C343.3,294.5 345.5,298.2 348.0,303.0 C350.5,307.8 353.3,314.3 356.0,319.0 C358.7,323.7 361.7,327.7 364.0,331.0 C366.3,334.3 367.0,335.5 370.0,339.0 C373.0,342.5 378.2,348.3 382.0,352.0 C385.8,355.7 391.2,359.8 393.0,361.4" fill="none" stroke="#0a0a0a" stroke-width="1.50" clip-path="url(#cc)"/>
<rect x="203.6" y="210.6" width="222.0" height="154.0" fill="none" stroke="#2a2a2a" stroke-width="1.15"/>
<line x1="197" y1="210.8" x2="203.6" y2="210.8" stroke="#777" stroke-width="0.9"/>
<text x="194.4" y="215.4" font-family="'Liberation Sans', sans-serif" font-size="10.00" fill="#111" text-anchor="end" stroke="#111" stroke-width="0.20" textLength="18.8" lengthAdjust="spacingAndGlyphs">0.25</text>
<line x1="197" y1="240.8" x2="203.6" y2="240.8" stroke="#777" stroke-width="0.9"/>
<text x="194.4" y="245.4" font-family="'Liberation Sans', sans-serif" font-size="10.00" fill="#111" text-anchor="end" stroke="#111" stroke-width="0.20" textLength="18.8" lengthAdjust="spacingAndGlyphs">0.20</text>
<line x1="197" y1="271.6" x2="203.6" y2="271.6" stroke="#777" stroke-width="0.9"/>
<text x="194.4" y="276.2" font-family="'Liberation Sans', sans-serif" font-size="10.00" fill="#111" text-anchor="end" stroke="#111" stroke-width="0.20" textLength="18.8" lengthAdjust="spacingAndGlyphs">0.15</text>
<line x1="197" y1="303.0" x2="203.6" y2="303.0" stroke="#777" stroke-width="0.9"/>
<text x="194.4" y="307.6" font-family="'Liberation Sans', sans-serif" font-size="10.00" fill="#111" text-anchor="end" stroke="#111" stroke-width="0.20" textLength="18.8" lengthAdjust="spacingAndGlyphs">0.10</text>
<line x1="197" y1="332.8" x2="203.6" y2="332.8" stroke="#777" stroke-width="0.9"/>
<text x="194.4" y="337.4" font-family="'Liberation Sans', sans-serif" font-size="10.00" fill="#111" text-anchor="end" stroke="#111" stroke-width="0.20" textLength="18.8" lengthAdjust="spacingAndGlyphs">0.05</text>
<line x1="197" y1="364.8" x2="203.6" y2="364.8" stroke="#777" stroke-width="0.9"/>
<text x="193.2" y="369.4" font-family="'Liberation Sans', sans-serif" font-size="10.00" fill="#111" text-anchor="end" stroke="#111" stroke-width="0.20" textLength="5.2" lengthAdjust="spacingAndGlyphs">0</text>
<line x1="203.6" y1="364.6" x2="203.6" y2="368.4" stroke="#777" stroke-width="0.9"/>
<text x="203.8" y="379.9" font-family="'Liberation Sans', sans-serif" font-size="10.00" fill="#111" text-anchor="middle" stroke="#111" stroke-width="0.20" textLength="10.4" lengthAdjust="spacingAndGlyphs">25</text>
<line x1="235.0" y1="364.6" x2="235.0" y2="368.4" stroke="#777" stroke-width="0.9"/>
<text x="235.2" y="379.9" font-family="'Liberation Sans', sans-serif" font-size="10.00" fill="#111" text-anchor="middle" stroke="#111" stroke-width="0.20" textLength="10.4" lengthAdjust="spacingAndGlyphs">50</text>
<line x1="266.6" y1="364.6" x2="266.6" y2="368.4" stroke="#777" stroke-width="0.9"/>
<text x="266.8" y="379.9" font-family="'Liberation Sans', sans-serif" font-size="10.00" fill="#111" text-anchor="middle" stroke="#111" stroke-width="0.20" textLength="10.4" lengthAdjust="spacingAndGlyphs">75</text>
<line x1="298.6" y1="364.6" x2="298.6" y2="368.4" stroke="#777" stroke-width="0.9"/>
<text x="299.2" y="379.9" font-family="'Liberation Sans', sans-serif" font-size="10.00" fill="#111" text-anchor="middle" stroke="#111" stroke-width="0.20" textLength="15.6" lengthAdjust="spacingAndGlyphs">100</text>
<line x1="330.8" y1="364.6" x2="330.8" y2="368.4" stroke="#777" stroke-width="0.9"/>
<text x="331.4" y="379.9" font-family="'Liberation Sans', sans-serif" font-size="10.00" fill="#111" text-anchor="middle" stroke="#111" stroke-width="0.20" textLength="15.6" lengthAdjust="spacingAndGlyphs">125</text>
<line x1="361.6" y1="364.6" x2="361.6" y2="368.4" stroke="#777" stroke-width="0.9"/>
<text x="362.2" y="379.9" font-family="'Liberation Sans', sans-serif" font-size="10.00" fill="#111" text-anchor="middle" stroke="#111" stroke-width="0.20" textLength="15.6" lengthAdjust="spacingAndGlyphs">150</text>
<line x1="392.8" y1="364.6" x2="392.8" y2="368.4" stroke="#777" stroke-width="0.9"/>
<text x="393.4" y="379.9" font-family="'Liberation Sans', sans-serif" font-size="10.00" fill="#111" text-anchor="middle" stroke="#111" stroke-width="0.20" textLength="15.6" lengthAdjust="spacingAndGlyphs">175</text>
<line x1="425.4" y1="364.6" x2="425.4" y2="368.4" stroke="#777" stroke-width="0.9"/>
<text x="426.0" y="379.9" font-family="'Liberation Sans', sans-serif" font-size="10.00" fill="#111" text-anchor="middle" stroke="#111" stroke-width="0.20" textLength="15.6" lengthAdjust="spacingAndGlyphs">200</text>
<text x="270.0" y="392.8" font-family="'Liberation Sans', sans-serif" font-size="9.40" fill="#111" text-anchor="start" font-weight="bold" stroke="#111" stroke-width="0.3" textLength="74.0" lengthAdjust="spacingAndGlyphs">Temperature (°C)</text>
<text x="165.8" y="300.0" font-family="'Liberation Sans', sans-serif" font-size="9.60" fill="#111" text-anchor="start" font-weight="bold" stroke="#111" stroke-width="0.3" textLength="32.0" lengthAdjust="spacingAndGlyphs" transform="rotate(-90 165.8 300.0)">dα / dt</text>
<text x="155.6" y="225.0" font-family="'Liberation Serif', serif" font-size="10.50" fill="#111" text-anchor="start" textLength="10.6" lengthAdjust="spacingAndGlyphs">(c)</text>
<text x="215.6" y="233.4" font-family="'Liberation Sans', sans-serif" font-size="8.50" fill="#111" text-anchor="start" font-weight="bold" stroke="#111" stroke-width="0.3" textLength="13.2" lengthAdjust="spacingAndGlyphs">PK3</text>
<line x1="233.0" y1="229.4" x2="292.4" y2="229.2" stroke="#111" stroke-width="0.75"/>
<polygon points="298.0,229.2 292.4,231.7 292.4,226.7" fill="#111"/>
<text x="210.0" y="272.4" font-family="'Liberation Sans', sans-serif" font-size="8.50" fill="#111" text-anchor="start" font-weight="bold" stroke="#111" stroke-width="0.3" textLength="13.2" lengthAdjust="spacingAndGlyphs">PK4</text>
<line x1="227.4" y1="269.4" x2="284.4" y2="269.9" stroke="#111" stroke-width="0.75"/>
<polygon points="290.0,270.0 284.4,272.4 284.4,267.4" fill="#111"/>
<text x="272.0" y="217.8" font-family="'Liberation Sans', sans-serif" font-size="8.50" fill="#111" text-anchor="start" font-weight="bold" stroke="#111" stroke-width="0.3" textLength="13.6" lengthAdjust="spacingAndGlyphs">FA2</text>
<line x1="287.0" y1="214.0" x2="299.9" y2="219.7" stroke="#111" stroke-width="0.75"/>
<polygon points="305.0,222.0 298.9,222.0 300.9,217.4" fill="#111"/>
<text x="256.0" y="246.8" font-family="'Liberation Sans', sans-serif" font-size="8.50" fill="#111" text-anchor="start" font-weight="bold" stroke="#111" stroke-width="0.3" textLength="13.6" lengthAdjust="spacingAndGlyphs">FA3</text>
<line x1="271.0" y1="245.0" x2="286.3" y2="250.2" stroke="#111" stroke-width="0.75"/>
<polygon points="291.6,252.0 285.5,252.6 287.1,247.8" fill="#111"/>
<text x="342.0" y="221.8" font-family="'Liberation Sans', sans-serif" font-size="8.50" fill="#1f80dc" text-anchor="start" font-weight="bold" stroke="#1f80dc" stroke-width="0.3" textLength="14.0" lengthAdjust="spacingAndGlyphs">FA1</text>
<line x1="341.0" y1="220.0" x2="324.2" y2="226.9" stroke="#1f80dc" stroke-width="0.75"/>
<polygon points="319.0,229.0 323.2,224.6 325.1,229.2" fill="#1f80dc"/>
<text x="390.0" y="249.8" font-family="'Liberation Sans', sans-serif" font-size="8.50" fill="#111" text-anchor="start" font-weight="bold" stroke="#111" stroke-width="0.3" textLength="14.0" lengthAdjust="spacingAndGlyphs">PK2</text>
<line x1="386.0" y1="246.4" x2="336.6" y2="246.6" stroke="#111" stroke-width="0.75"/>
<polygon points="331.0,246.6 336.6,244.1 336.6,249.1" fill="#111"/>
<text x="409.6" y="310.8" font-family="'Liberation Sans', sans-serif" font-size="8.50" fill="#111" text-anchor="start" font-weight="bold" stroke="#111" stroke-width="0.3" textLength="13.4" lengthAdjust="spacingAndGlyphs">FA4</text>
<line x1="412.0" y1="314.0" x2="401.5" y2="321.7" stroke="#111" stroke-width="0.75"/>
<polygon points="397.0,325.0 400.0,319.7 403.0,323.7" fill="#111"/>
<text x="316.0" y="350.8" font-family="'Liberation Sans', sans-serif" font-size="8.50" fill="#1cb347" text-anchor="start" font-weight="bold" stroke="#1cb347" stroke-width="0.3" textLength="13.6" lengthAdjust="spacingAndGlyphs">PK1</text>
<line x1="327.0" y1="340.0" x2="340.7" y2="335.7" stroke="#1cb347" stroke-width="0.75"/>
<polygon points="346.0,334.0 341.4,338.1 339.9,333.3" fill="#1cb347"/>
</svg>
</body></html>
